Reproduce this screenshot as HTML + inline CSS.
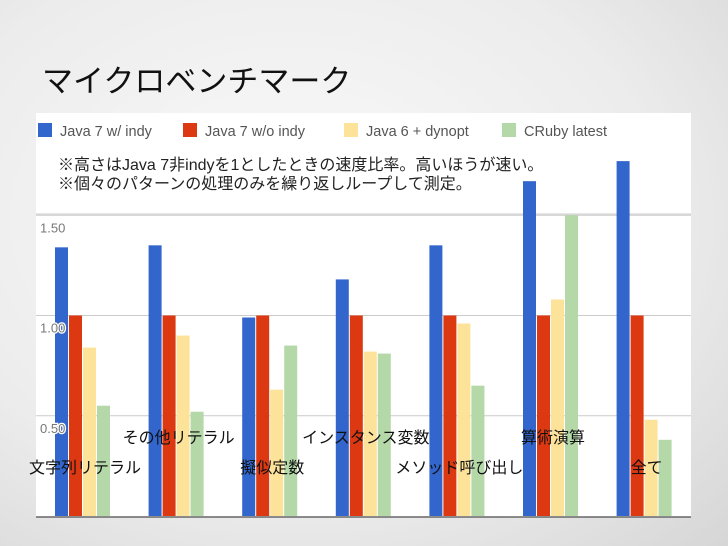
<!DOCTYPE html>
<html><head><meta charset="utf-8"><style>
body{margin:0;width:728px;height:546px;overflow:hidden;background:radial-gradient(ellipse at 40% 40%,#fafafa 0%,#ececec 60%,#d6d6d6 100%);font-family:"Liberation Sans","Noto Sans CJK JP",sans-serif;}
</style></head><body>
<div style="position:absolute;left:42px;top:56px;font-size:31px;color:#111;font-family:'Liberation Sans','Noto Sans CJK JP',sans-serif;">マイクロベンチマーク</div>
<svg id="chart" width="728" height="546" style="position:absolute;left:0;top:0" font-family="Liberation Sans, Noto Sans CJK JP, sans-serif"></svg>
<script>
const categories=["文字列リテラル","その他リテラル","擬似定数","インスタンス変数","メソッド呼び出し","算術演算","全て"];
const seriesNames=["Java 7 w/ indy","Java 7 w/o indy","Java 6 + dynopt","CRuby latest"];
const java7Indy=[1.34,1.35,0.99,1.18,1.35,1.67,1.77];
const java7NoIndy=[1.0,1.0,1.0,1.0,1.0,1.0,1.0];
const java6Dynopt=[0.84,0.90,0.63,0.82,0.96,1.08,0.48];
const cruby=[0.55,0.52,0.85,0.81,0.65,1.50,0.38];
const yTicks=[0.5,1.0,1.5];
const yTickLabels=["0.50","1.00","1.50"];
const NS="http://www.w3.org/2000/svg";
const svg=document.getElementById('chart');
const colors=["#3366cc","#dc3912","#fde39a","#b4d8a8"];
const y=v=>516-v*200.5;
const x=(i,s)=>55+i*93.6+s*14;
function mk(t,a){const e=document.createElementNS(NS,t);for(const k in a)e.setAttribute(k,a[k]);svg.appendChild(e);return e;}
const panel=mk('rect',{x:36,y:113,width:655,height:404,fill:'#fff'});


const topLine=mk('line',{x1:36,x2:691,y1:214,y2:214,stroke:'#ccc'});


yTicks.forEach((t,i)=>{
 const g=mk('line',{x1:36,x2:691,y1:y(t),y2:y(t),stroke:'#ccc'});
 
 
});
[java7Indy,java7NoIndy,java6Dynopt,cruby].forEach((ser,s)=>{
 ser.forEach((v,i)=>{
  const r=mk('rect',{x:x(i,s),y:y(v),width:13,height:516-y(v),fill:colors[s]});
  
  
 });
});
yTicks.forEach((t,i)=>{
 const l=mk('text',{x:40,y:y(t)+17,'font-size':13,fill:'#777',stroke:'#fff','stroke-width':2.5,'paint-order':'stroke'});l.textContent=yTickLabels[i];
 
 
});
const ax=mk('line',{x1:36,x2:691,y1:517,y2:517,stroke:'#666','stroke-width':1.5});


categories.forEach((c,i)=>{
 const t=mk('text',{x:x(i,2)+2,y:i%2?443:473,'font-size':16,fill:'#111','text-anchor':'middle'});t.textContent=c;
 
 
});
const legX=[38,183,344,502];
seriesNames.forEach((n,s)=>{
 const r=mk('rect',{x:legX[s],y:123,width:14,height:14,fill:colors[s]});
 
 
 const t=mk('text',{x:legX[s]+22,y:136,'font-size':14.5,fill:'#555'});t.textContent=n;
 
 
});
["※高さはJava 7非indyを1としたときの速度比率。高いほうが速い。","※個々のパターンの処理のみを繰り返しループして測定。"].forEach((s,i)=>{
 const t=mk('text',{x:58,y:170+i*19,'font-size':16,fill:'#222'});t.textContent=s;
 
 
});
</script>
</body></html>
